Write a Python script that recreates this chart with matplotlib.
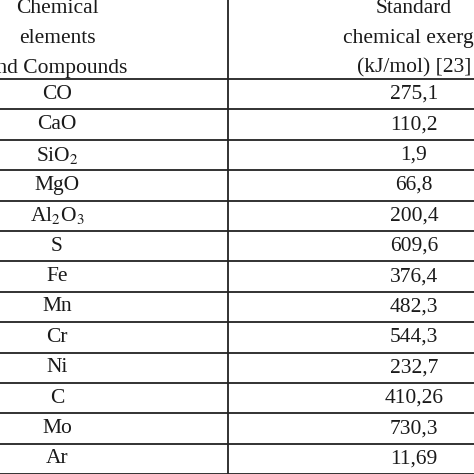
import matplotlib.pyplot as plt

plt.rcParams["font.family"] = ["Liberation Serif", "DejaVu Serif"]
plt.rcParams["mathtext.fontset"] = "stix"

header_left = ["Chemical", "elements", "and Compounds"]
header_right = ["Standard", "chemical exergy", "(kJ/mol) [23]"]
compounds = ["CO", "CaO", "SiO$_2$", "MgO", "Al$_2$O$_3$", "S", "Fe", "Mn",
             "Cr", "Ni", "C", "Mo", "Ar"]
exergy = ["275,1", "110,2", "1,9", "66,8", "200,4", "609,6", "376,4", "482,3",
          "544,3", "232,7", "410,26", "730,3", "11,69"]

W, H = 474, 474
header_bottom = 79
row_h = 30.4
col_split = 228
left_x, right_x = 57, 414
fs = 15.5

fig = plt.figure(figsize=(4.74, 4.74), dpi=100)
ax = fig.add_axes([0, 0, 1, 1])
ax.set_xlim(0, W)
ax.set_ylim(H, 0)
ax.axis("off")

for i, (a, b) in enumerate(zip(header_left, header_right)):
    y = 8 + i * 30
    ax.text(left_x, y, a, ha="center", va="center", fontsize=fs, color="#1a1a1a")
    ax.text(right_x, y, b, ha="center", va="center", fontsize=fs, color="#1a1a1a")

ax.plot([0, W], [header_bottom, header_bottom], color="#222222", lw=1.3)
for i, (c, v) in enumerate(zip(compounds, exergy)):
    top = header_bottom + i * row_h
    yc = top + row_h / 2
    ax.text(left_x, yc, c, ha="center", va="center", fontsize=fs, color="#1a1a1a")
    ax.text(right_x, yc, v, ha="center", va="center", fontsize=fs, color="#1a1a1a")
    ax.plot([0, W], [top + row_h, top + row_h], color="#222222", lw=1.3)

ax.plot([col_split, col_split], [0, H], color="#222222", lw=1.3)

fig.savefig("out.png", dpi=100)
